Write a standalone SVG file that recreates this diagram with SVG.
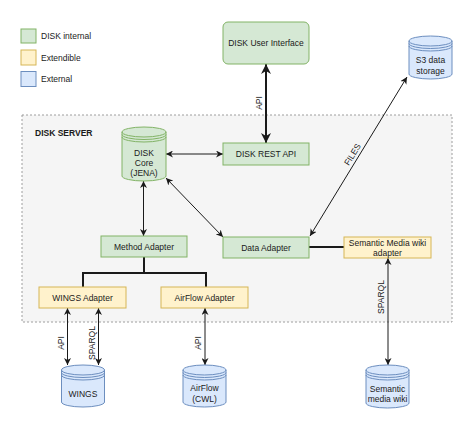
<svg xmlns="http://www.w3.org/2000/svg" width="474" height="430" viewBox="0 0 474 430">
<style>
text{font-family:"Liberation Sans",Arial,sans-serif;font-size:8.5px;fill:#1a1a1a}
.g{fill:#d5e8d4;stroke:#82b366;stroke-width:1}
.y{fill:#fff2cc;stroke:#d6b656;stroke-width:1}
.b{fill:#dae8fc;stroke:#6c8ebf;stroke-width:1}
.bl{fill:none;stroke:#6c8ebf;stroke-width:1}
.gl{fill:none;stroke:#82b366;stroke-width:1}
.c{fill:none;stroke:#1a1a1a;stroke-width:1}
.t{fill:none;stroke:#1a1a1a;stroke-width:2}
.m{text-anchor:middle}
</style>
<defs>
<marker id="a" viewBox="0 0 10 10" refX="10" refY="5" markerWidth="7" markerHeight="7" markerUnits="userSpaceOnUse" orient="auto-start-reverse"><path d="M0,0 L10,5 L0,10 L3,5 z" fill="#1a1a1a"/></marker>
<marker id="A" viewBox="0 0 10 10" refX="10" refY="5" markerWidth="10" markerHeight="10" markerUnits="userSpaceOnUse" orient="auto-start-reverse"><path d="M0,0 L10,5 L0,10 L3,5 z" fill="#1a1a1a"/></marker>
</defs>
<rect width="474" height="430" fill="#ffffff"/>
<g id="legend">
<rect x="21" y="29" width="15" height="14" class="g"/>
<text x="41" y="39">DISK internal</text>
<rect x="21" y="50" width="15" height="15" class="y"/>
<text x="41" y="60.5">Extendible</text>
<rect x="21" y="71.5" width="15" height="15" class="b"/>
<text x="41" y="82">External</text>
</g>
<g id="disk-server">
<rect x="22" y="115" width="430" height="207" fill="#f5f5f5" stroke="#9e9e9e" stroke-width="1" stroke-dasharray="2 2"/>
<text x="35" y="136" font-weight="bold">DISK SERVER</text>
</g>
<g id="connectors">
<line x1="266" y1="64" x2="266" y2="143" class="t" marker-start="url(#A)" marker-end="url(#A)"/>
<text transform="translate(262,103) rotate(-90)" class="m" font-size="8px">API</text>
<line x1="166" y1="154" x2="223" y2="154" class="c" marker-start="url(#a)" marker-end="url(#a)"/>
<line x1="143.5" y1="181" x2="143.5" y2="236" class="c" marker-start="url(#a)" marker-end="url(#a)"/>
<line x1="166" y1="178" x2="223" y2="237" class="c" marker-start="url(#a)" marker-end="url(#a)"/>
<line x1="407" y1="77" x2="310" y2="236" class="c" marker-start="url(#a)" marker-end="url(#a)"/>
<text transform="translate(355,156) rotate(-58.5)" class="m" font-size="8px">FILES</text>
<line x1="309" y1="247" x2="344" y2="247" class="t"/>
<path d="M144,257 V273 M83,273 H206 M83,272 V287 M206,272 V287" class="t"/>
<line x1="67.5" y1="308" x2="67.5" y2="365" class="c" marker-start="url(#a)" marker-end="url(#a)"/>
<text transform="translate(64,343) rotate(-90)" class="m" font-size="8px">API</text>
<line x1="98.5" y1="308" x2="98.5" y2="365" class="c" marker-start="url(#a)" marker-end="url(#a)"/>
<text transform="translate(95,343) rotate(-90)" class="m" font-size="8px">SPARQL</text>
<line x1="205" y1="308" x2="205" y2="365" class="c" marker-start="url(#a)" marker-end="url(#a)"/>
<text transform="translate(201,343) rotate(-90)" class="m" font-size="8px">API</text>
<line x1="388" y1="258" x2="388" y2="365" class="c" marker-start="url(#a)" marker-end="url(#a)"/>
<text transform="translate(384,297) rotate(-90)" class="m" font-size="8px">SPARQL</text>
</g>
<g id="disk-user-interface">
<rect x="223" y="22" width="86" height="42" rx="5" class="g"/>
<text x="266" y="46" class="m">DISK User Interface</text>
</g>
<g id="s3-data-storage">
<path d="M409,41 A21.5,5 0 0 1 452,41 V74 A21.5,5 0 0 1 409,74 Z" class="b"/>
<path d="M409,41 A21.5,5 0 0 0 452,41 M409,43.5 A21.5,5 0 0 0 452,43.5 M409,46 A21.5,5 0 0 0 452,46" class="bl"/>
<text x="430.5" y="63" class="m">S3 data</text>
<text x="430.5" y="73.5" class="m">storage</text>
</g>
<g id="disk-core">
<path d="M122,132 A22,5 0 0 1 166,132 V176 A22,5 0 0 1 122,176 Z" class="g"/>
<path d="M122,132 A22,5 0 0 0 166,132 M122,134.5 A22,5 0 0 0 166,134.5 M122,137 A22,5 0 0 0 166,137" class="gl"/>
<text x="144" y="156" class="m">DISK</text>
<text x="144" y="166" class="m">Core</text>
<text x="144" y="176" class="m">(JENA)</text>
</g>
<g id="disk-rest-api">
<rect x="223" y="143" width="86" height="22" class="g"/>
<text x="266" y="157" class="m">DISK REST API</text>
</g>
<g id="method-adapter">
<rect x="101" y="236" width="86" height="21" class="g"/>
<text x="144" y="249.5" class="m">Method Adapter</text>
</g>
<g id="data-adapter">
<rect x="223" y="237" width="86" height="21" class="g"/>
<text x="266" y="250.5" class="m">Data Adapter</text>
</g>
<g id="smw-adapter">
<rect x="344" y="237" width="87" height="21" class="y"/>
<text x="387.5" y="245.5" class="m">Semantic Media wiki</text>
<text x="387.5" y="255.5" class="m">adapter</text>
</g>
<g id="wings-adapter">
<rect x="39" y="287" width="87" height="21" class="y"/>
<text x="82.5" y="300.5" class="m">WINGS Adapter</text>
</g>
<g id="airflow-adapter">
<rect x="161" y="287" width="87" height="21" class="y"/>
<text x="204.5" y="300.5" class="m">AirFlow Adapter</text>
</g>
<g id="wings">
<path d="M61.5,370 A21.5,5 0 0 1 104.5,370 V402 A21.5,5 0 0 1 61.5,402 Z" class="b"/>
<path d="M61.5,370 A21.5,5 0 0 0 104.5,370 M61.5,372.5 A21.5,5 0 0 0 104.5,372.5 M61.5,375 A21.5,5 0 0 0 104.5,375" class="bl"/>
<text x="83" y="397" class="m">WINGS</text>
</g>
<g id="airflow">
<path d="M183,370 A21.5,5 0 0 1 226,370 V402 A21.5,5 0 0 1 183,402 Z" class="b"/>
<path d="M183,370 A21.5,5 0 0 0 226,370 M183,372.5 A21.5,5 0 0 0 226,372.5 M183,375 A21.5,5 0 0 0 226,375" class="bl"/>
<text x="204.5" y="391" class="m">AirFlow</text>
<text x="204.5" y="402" class="m">(CWL)</text>
</g>
<g id="semantic-media-wiki">
<path d="M366,370 A21.5,5 0 0 1 409,370 V403 A21.5,5 0 0 1 366,403 Z" class="b"/>
<path d="M366,370 A21.5,5 0 0 0 409,370 M366,372.5 A21.5,5 0 0 0 409,372.5 M366,375 A21.5,5 0 0 0 409,375" class="bl"/>
<text x="387.5" y="392" class="m">Semantic</text>
<text x="387.5" y="401.5" class="m">media wiki</text>
</g>
</svg>
